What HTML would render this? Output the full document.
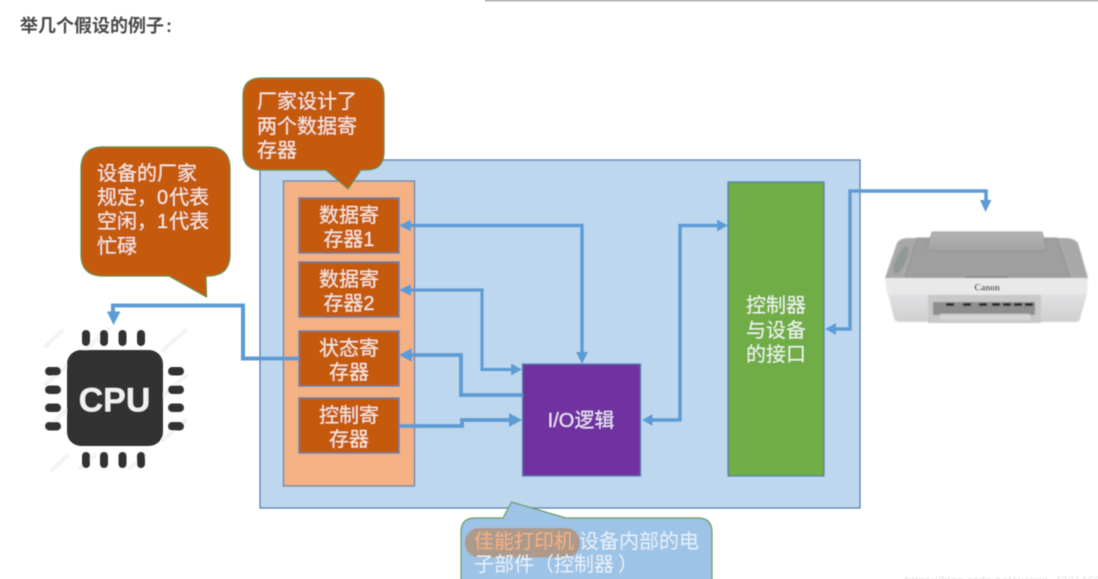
<!DOCTYPE html>
<html lang="zh"><head><meta charset="utf-8"><title>举几个假设的例子</title>
<style>
html,body{margin:0;padding:0;background:#fff;width:1098px;height:579px;overflow:hidden}
svg{display:block}
text{font-family:"Liberation Sans","Noto Sans CJK SC",sans-serif}
.t{font-size:20px;fill:#f9e8da}
.c{text-anchor:middle}
.reg{fill:#c55a11;stroke:#5f80a8;stroke-width:1.5}
.call{fill:#c55a11;stroke:#5f8a45;stroke-width:1.2}
.ln{fill:none;stroke:#5b9bd5}
.ah{fill:#5b9bd5}
</style></head><body>
<svg width="1098" height="579" viewBox="0 0 1098 579" xmlns="http://www.w3.org/2000/svg">
<defs>
<filter id="all" filterUnits="userSpaceOnUse" x="0" y="0" width="1098" height="579"><feGaussianBlur stdDeviation="0.4"/></filter>
<filter id="b2" x="-5%" y="-5%" width="110%" height="110%"><feGaussianBlur stdDeviation="0.6"/></filter>
<linearGradient id="lid" x1="0" y1="0" x2="0" y2="1"><stop offset="0" stop-color="#b4b4b4"/><stop offset="1" stop-color="#a2a2a2"/></linearGradient>
<linearGradient id="bd" x1="0" y1="0" x2="0" y2="1"><stop offset="0" stop-color="#e2e2e4"/><stop offset="1" stop-color="#cfcfd1"/></linearGradient>
</defs>
<rect x="485" y="0" width="613" height="1.500" fill="#b5b5b5"/>
<g filter="url(#all)">
<text x="20" y="32" font-size="18" font-weight="700" fill="#4a4a4a">举几个假设的例子<tspan dx="2">:</tspan></text>

<rect x="260" y="160" width="600" height="348" fill="#bdd7ee" stroke="#4f7dab" stroke-width="1.3"/>
<rect x="283.500" y="181" width="131" height="305" fill="#f4b183" stroke="#5f80a8" stroke-width="1.3"/>
<rect class="reg" x="299" y="198" width="100" height="55"/>
<rect class="reg" x="299" y="262" width="100" height="55"/>
<rect class="reg" x="299" y="331" width="100" height="55"/>
<rect class="reg" x="299" y="398" width="100" height="55"/>
<rect x="522.500" y="364" width="118" height="112" fill="#7030a0" stroke="#4f7dab" stroke-width="1.3"/>
<rect x="728" y="182" width="96" height="294" fill="#70ad47" stroke="#4f7dab" stroke-width="1.3"/>

<text class="t c" x="349" y="222">数据寄</text><text class="t c" x="349" y="246">存器1</text>
<text class="t c" x="349" y="286">数据寄</text><text class="t c" x="349" y="310">存器2</text>
<text class="t c" x="349" y="355">状态寄</text><text class="t c" x="349" y="379">存器</text>
<text class="t c" x="349" y="422">控制寄</text><text class="t c" x="349" y="446">存器</text>
<text class="t c" x="581" y="427" style="fill:#f0e4f5">I/O逻辑</text>
<text class="t c" x="776" y="312" style="fill:#eef5e9">控制器</text>
<text class="t c" x="776" y="337" style="fill:#eef5e9">与设备</text>
<text class="t c" x="776" y="361" style="fill:#eef5e9">的接口</text>

<!-- connectors -->
<path class="ln" stroke-width="4" d="M299 358.500H243V305.500H113V313"/>
<path class="ah" d="M107 311.500H120.500L113.500 325Z"/>
<path class="ln" stroke-width="3.500" d="M410 225.500H582V353"/>
<path class="ah" d="M399 225.500L411 219.500V231.500Z"/><path class="ah" d="M576 352H588L582 364Z"/>
<path class="ln" stroke-width="3.200" d="M410 290H482V369.500H512"/>
<path class="ah" d="M399 290L411 284V296Z"/><path class="ah" d="M511 363.500V375.500L522 369.500Z"/>
<path class="ln" stroke-width="4" d="M411 355H461V395H523"/>
<path class="ah" d="M399 355L412 348V362Z"/>
<path class="ln" stroke-width="4" d="M400 426H462V420H510"/>
<path class="ah" d="M509 413V427L522 420Z"/>
<path class="ln" stroke-width="3.500" d="M652 420H680V225.500H718"/>
<path class="ah" d="M642 420L652.500 414V426Z"/><path class="ah" d="M717 219.500V231.500L728 225.500Z"/>
<path class="ln" stroke-width="3.500" d="M835 329H850V191H986V202"/>
<path class="ah" d="M825 329L836 323V335Z"/><path class="ah" d="M980 200H991.500L985.500 212Z"/>

<!-- callouts -->
<path class="call" d="M261 78H366Q384 78 384 96V152Q384 170 366 170H361L348 189L326 170H261Q243 170 243 152V96Q243 78 261 78Z"/>
<text class="t" x="257" y="108">厂家设计了</text><text class="t" x="257" y="133">两个数据寄</text><text class="t" x="257" y="157">存器</text>
<path class="call" d="M103 147H208Q230 147 230 169V254Q230 276 208 276H206L206.500 297L169 276H103Q81 276 81 254V169Q81 147 103 147Z"/>
<text class="t" x="97" y="180">设备的厂家</text><text class="t" x="97" y="204">规定，0<tspan dx="1">代表</tspan></text><text class="t" x="97" y="228">空闲，1<tspan dx="1">代表</tspan></text><text class="t" x="97" y="253">忙碌</text>
<path d="M475 518H503L511.500 502L566 518H698Q712 518 712 532V600H461V532Q461 518 475 518Z" fill="#9dc3e6" stroke="#6a9a55" stroke-width="1.2"/>
<rect x="465" y="528" width="115" height="29.500" rx="14" fill="#ae9a8b"/>
<text x="474" y="548" font-size="20" fill="#f4b183">佳能打印机</text>
<text x="579" y="548" font-size="20" fill="#e6f0f9">设备内部的电</text>
<text x="474" y="571" font-size="20" fill="#e6f0f9">子部件（控制器<tspan dx="4">）</tspan></text>

<!-- CPU -->
<g stroke="#f3f3f3" stroke-width="4" stroke-linecap="round">
<path d="M46 346L62 331M46 384L110 328M46 428L67 410M163 350L186 330M52 470L67 456M163 440L186 420M163 395L186 376M80 468L95 456M130 468L145 456"/>
</g>
<rect x="67" y="350" width="96" height="96" rx="14" fill="#333"/>
<g fill="#333">
<rect x="82" y="330" width="8" height="16" rx="4"/><rect x="100" y="330" width="8" height="16" rx="4"/><rect x="118.500" y="330" width="8" height="16" rx="4"/><rect x="137" y="330" width="8" height="16" rx="4"/>
<rect x="82" y="452" width="8" height="16" rx="4"/><rect x="100" y="452" width="8" height="16" rx="4"/><rect x="118.500" y="452" width="8" height="16" rx="4"/><rect x="137" y="452" width="8" height="16" rx="4"/>
<rect x="45" y="367" width="16" height="8.500" rx="4.200"/><rect x="45" y="385.500" width="16" height="8.500" rx="4.200"/><rect x="45" y="403.500" width="16" height="8.500" rx="4.200"/><rect x="45" y="422" width="16" height="8.500" rx="4.200"/>
<rect x="168" y="367" width="16" height="8.500" rx="4.200"/><rect x="168" y="385.500" width="16" height="8.500" rx="4.200"/><rect x="168" y="403.500" width="16" height="8.500" rx="4.200"/><rect x="168" y="422" width="16" height="8.500" rx="4.200"/>
</g>
<text x="114.500" y="411.500" font-size="34" font-weight="700" fill="#f2f2f2" text-anchor="middle">CPU</text>

<!-- printer -->
<g filter="url(#b2)">
<path d="M885 278L897 243Q900 238 908 238H1066Q1074 238 1078 243L1088 278Z" fill="#a8a8a8"/>
<path d="M917 238L905 277H1070L1057 238Z" fill="#9f9f9f" stroke="#8d8d8d" stroke-width=".7"/>
<path d="M932 232H1042L1047 249Q1047 251 1044 251H931Q927 251 927 249Z" fill="url(#lid)" stroke="#8c8c8c" stroke-width=".7"/>
<rect x="966" y="276.500" width="42" height="2.500" fill="#7c7c7c"/>
<path d="M885 278H1088L1087 294H887Z" fill="#e9e9ea"/>
<path d="M888 294H1087L1080 319Q1079 322 1075 322H1040V295H929V322H900Q895 322 894 318Z" fill="url(#bd)"/>
<rect x="928" y="295" width="113" height="28" fill="#c8c8c8"/>
<rect x="933" y="302" width="102" height="13" fill="#8e8e8e"/>
<rect x="940" y="314" width="90" height="6" fill="#d5d5d5"/>
<g fill="#222"><rect x="946" y="303" width="8" height="3"/><rect x="963" y="303" width="8" height="3"/><rect x="979" y="303" width="8" height="3"/><rect x="992" y="303" width="8" height="3"/><rect x="1003" y="303" width="8" height="3"/><rect x="1014" y="303" width="8" height="3"/><rect x="1025" y="303" width="8" height="3"/></g>
<ellipse cx="901" cy="260" rx="5" ry="15" fill="#8f9a94" transform="rotate(25 901 260)"/>
</g>
<text x="987" y="290.500" font-size="9" font-weight="700" fill="#555" text-anchor="middle" style="font-family:'Liberation Serif',serif">Canon</text>

<text x="905" y="584" font-size="11" fill="#e2e2e2" style="letter-spacing:.4px">https://blog.csdn.net/weixin_43014604</text>
</g>
</svg>
</body></html>
